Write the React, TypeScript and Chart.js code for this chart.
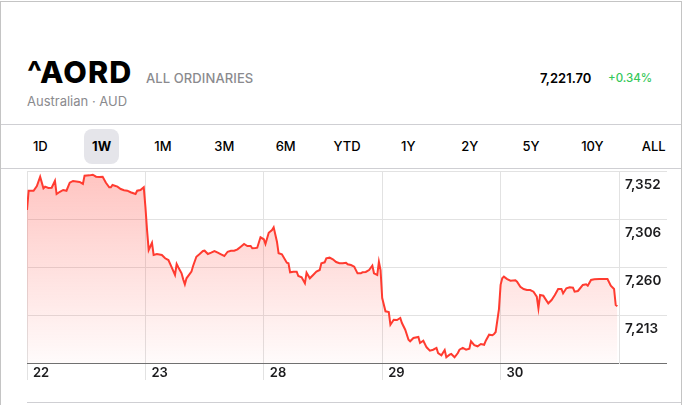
import React, { useEffect, useRef } from 'react';
import { Chart, registerables } from 'chart.js';

Chart.register(...registerables);

// Trading minutes since the first session open (each session = 360 minutes)
const dayTicks = [0, 360, 720, 1080, 1440];
const dayLabels = ['22', '23', '28', '29', '30'];
const priceTicks = [7167, 7213.25, 7259.5, 7305.75, 7352];
const priceTickLabels = ['', '7,213', '7,260', '7,306', '7,352'];
const ranges = ['1D', '1W', '1M', '3M', '6M', 'YTD', '1Y', '2Y', '5Y', '10Y', 'ALL'];
const selectedRange = '1W';

const times = [
  0, 5, 20, 30, 40, 50, 55, 65, 75, 85, 90, 100, 110, 120, 130, 140, 155, 160, 170, 175,
  190, 200, 210, 220, 230, 240, 250, 255, 260, 275, 285, 295, 305, 315, 330, 335, 345, 355,
  360, 365, 370, 380, 385, 395, 410, 420, 430, 440, 450, 455, 460, 470, 475, 480, 485, 500, 505, 515,
  525, 535, 540, 550, 560, 570, 580, 590, 600, 610, 620, 630, 640, 650, 660, 670, 680, 685, 695, 700, 710,
  720, 725, 735, 745, 750, 760, 765, 775, 790, 795, 800, 810, 820, 825, 835, 845, 850, 860, 870, 880, 890,
  895, 905, 910, 920, 930, 940, 950, 960, 970, 975, 985, 995, 1005, 1015, 1020, 1030, 1040, 1050, 1055, 1065,
  1070, 1075,
  1080, 1090, 1100, 1105, 1115, 1125, 1135, 1140, 1150, 1160, 1165, 1175, 1190, 1195, 1205, 1215, 1225, 1235, 1245, 1250,
  1260, 1270, 1275, 1285, 1290, 1300, 1310, 1315, 1325, 1335, 1345, 1350, 1360, 1370, 1380, 1390, 1395, 1405, 1415, 1420,
  1425, 1435,
  1440, 1445, 1450, 1460, 1470, 1485, 1490, 1500, 1510, 1520, 1530, 1540, 1550, 1555, 1560, 1570, 1575, 1585, 1595, 1605,
  1615, 1625, 1630, 1640, 1650, 1660, 1665, 1675, 1680, 1690, 1700, 1705, 1715, 1725, 1740, 1755, 1765, 1775, 1785, 1790,
  1795,
];

const prices = [
  7314.4, 7333.0, 7333.0, 7337.5, 7346.5, 7335.3, 7336.9, 7335.6, 7335.9, 7342.6, 7329.8, 7332.0, 7333.7, 7333.0, 7340.7, 7342.4, 7341.7, 7341.4, 7339.5, 7347.5,
  7347.8, 7348.4, 7346.5, 7346.2, 7346.5, 7340.7, 7336.3, 7336.3, 7338.5, 7336.9, 7334.6, 7333.4, 7333.0, 7331.5, 7329.8, 7333.0, 7333.7, 7336.4,
  7317.6, 7295.1, 7275.9, 7282.9, 7271.1, 7272.0, 7271.1, 7267.9, 7266.2, 7259.2, 7251.8, 7262.4, 7259.2, 7253.4, 7247.6, 7242.8, 7248.6, 7255.0, 7260.5, 7269.4,
  7272.0, 7274.9, 7275.2, 7272.0, 7273.3, 7274.9, 7273.3, 7271.7, 7270.1, 7274.2, 7275.2, 7275.2, 7276.5, 7279.1, 7281.7, 7279.7, 7279.7, 7277.5, 7277.8, 7278.1, 7288.1,
  7286.2, 7281.7, 7292.5, 7295.1, 7297.7, 7283.9, 7272.7, 7271.7, 7263.6, 7263.1, 7254.4, 7255.0, 7255.0, 7250.8, 7249.6, 7243.8, 7254.0, 7248.6, 7251.8, 7255.0, 7256.6,
  7263.1, 7264.0, 7267.9, 7268.5, 7266.9, 7264.3, 7263.1, 7263.1, 7263.6, 7262.1, 7261.4, 7259.8, 7253.4, 7253.4, 7254.4, 7254.7, 7256.6, 7260.8, 7253.4, 7251.8,
  7264.6, 7256.6,
  7229.6, 7216.8, 7216.1, 7203.9, 7208.7, 7208.4, 7210.4, 7205.5, 7199.1, 7189.4, 7187.9, 7191.1, 7192.1, 7186.3, 7188.5, 7182.1, 7178.9, 7179.8, 7181.5, 7176.6,
  7174.4, 7179.5, 7172.5, 7175.0, 7175.7, 7172.5, 7176.6, 7179.8, 7181.5, 7179.8, 7180.8, 7187.9, 7184.1, 7183.1, 7185.3, 7184.6, 7188.5, 7194.3, 7193.7, 7194.9,
  7196.9, 7219.0,
  7242.3, 7248.6, 7250.2, 7247.9, 7246.3, 7246.7, 7245.3, 7240.5, 7238.3, 7237.3, 7237.3, 7235.7, 7230.9, 7219.7, 7232.5, 7231.8, 7229.3, 7224.5, 7227.7, 7232.5,
  7238.3, 7238.3, 7234.2, 7239.0, 7239.9, 7239.6, 7235.7, 7236.4, 7238.3, 7242.2, 7242.8, 7241.5, 7247.0, 7247.6, 7247.9, 7247.9, 7247.9, 7241.5, 7238.3, 7222.9,
  7221.7,
];

const FONT = 'Inter, "Noto Sans", "Liberation Sans", sans-serif';
const LIGHT = '#e2e2e2';
const AXIS = '#707070';
const SEP = '#cfcfd3';

function PriceChart() {
  const ref = useRef<HTMLCanvasElement | null>(null);
  useEffect(() => {
    if (!ref.current) return;
    const chart = new Chart(ref.current, {
      type: 'line',
      data: {
        datasets: [
          {
            data: times.map((t, i) => ({ x: t, y: prices[i] })),
            borderColor: '#ff3b30',
            borderWidth: 2,
            pointRadius: 0,
            tension: 0,
            fill: 'start',
            backgroundColor: (c: any) => {
              const area = c.chart.chartArea;
              if (!area) return 'rgba(255,59,48,0.15)';
              const g = c.chart.ctx.createLinearGradient(0, area.top, 0, area.bottom);
              g.addColorStop(0, 'rgba(255,59,48,0.30)');
              g.addColorStop(1, 'rgba(255,59,48,0.02)');
              return g;
            },
          },
        ],
      },
      options: {
        animation: false,
        responsive: false,
        maintainAspectRatio: false,
        events: [],
        layout: { padding: { left: 27, top: 11, right: 0, bottom: 0 } },
        plugins: { legend: { display: false }, tooltip: { enabled: false } },
        scales: {
          x: {
            type: 'linear',
            min: 0,
            max: 1800,
            afterFit: (s: any) => { s.height = 38; },
            afterBuildTicks: (s: any) => { s.ticks = dayTicks.map((v) => ({ value: v })); },
            grid: { color: LIGHT, tickColor: LIGHT, tickLength: 17, drawTicks: true, lineWidth: 1 },
            border: { display: true, color: AXIS, width: 1 },
            ticks: {
              callback: (_v: any, i: number) => dayLabels[i],
              align: 'start',
              labelOffset: 6,
              padding: -15,
              autoSkip: false,
              maxRotation: 0,
              color: '#1c1c1e',
              font: { family: FONT, size: 13, weight: '600' },
            },
          },
          y: {
            type: 'linear',
            position: 'right',
            min: priceTicks[0],
            max: priceTicks[priceTicks.length - 1],
            afterFit: (s: any) => { s.width = 62; },
            afterBuildTicks: (s: any) => { s.ticks = priceTicks.map((v) => ({ value: v })); },
            grid: {
              color: (c: any) => (c.tick && c.tick.value === priceTicks[0] ? AXIS : LIGHT),
              tickColor: (c: any) => (c.tick && c.tick.value === priceTicks[0] ? AXIS : LIGHT),
              tickLength: 48,
              drawTicks: true,
            },
            border: { display: true, color: LIGHT, width: 1 },
            ticks: {
              callback: (_v: any, i: number) => priceTickLabels[i],
              padding: -42,
              labelOffset: 14,
              autoSkip: false,
              color: '#1c1c1e',
              font: { family: FONT, size: 13.5, weight: '600' },
            },
          },
        },
      },
    } as any);
    return () => chart.destroy();
  }, []);
  return (
    <canvas
      ref={ref}
      width={681}
      height={241}
      style={{ position: 'absolute', left: 0, top: 160, width: 681, height: 241 }}
    />
  );
}

export default function App() {
  const abs = (o: any): React.CSSProperties => ({ position: 'absolute', whiteSpace: 'nowrap', lineHeight: 1, fontFamily: FONT, ...o });
  return (
    <div style={{ position: 'absolute', left: 0, top: 0, width: 683, height: 405, overflow: 'hidden', background: '#fff' }}>
      <div style={{ position: 'absolute', left: 0, top: 1, width: 682, height: 420, boxSizing: 'border-box', borderTop: '1px solid #c4c4c4', borderLeft: '1px solid #c4c4c4', borderRight: '1px solid #c4c4c4' }} />
      <div style={abs({ left: 27, top: 57.2, fontSize: 30.5, fontWeight: 800, color: '#000', letterSpacing: 1.1 })}>^AORD</div>
      <div style={abs({ left: 146, top: 71.5, fontSize: 13, fontWeight: 500, color: '#8a8a8e', letterSpacing: 0.1 })}>ALL ORDINARIES</div>
      <div style={abs({ left: 27, top: 94.9, fontSize: 13, fontWeight: 400, color: '#8a8a8e' })}>Australian · AUD</div>
      <div style={abs({ left: 540, top: 72, fontSize: 13, fontWeight: 600, color: '#000' })}>7,221.70</div>
      <div style={abs({ left: 608, top: 73.2, fontSize: 11.5, fontWeight: 500, color: '#34c759' })}>+0.34%</div>
      <div style={{ position: 'absolute', left: 1, top: 124, width: 680, height: 1, background: SEP }} />
      <div style={{ position: 'absolute', left: 83.5, top: 128.5, width: 35, height: 35, borderRadius: 8, background: '#e5e5ea' }} />
      {ranges.map((r, i) => (
        <div
          key={r}
          style={abs({
            left: 40.3 + 61.34 * i - 30,
            width: 60,
            textAlign: 'center',
            top: 139.9,
            fontSize: 13,
            fontWeight: r === selectedRange ? 700 : 500,
            color: '#000',
          })}
        >
          {r}
        </div>
      ))}
      <div style={{ position: 'absolute', left: 1, top: 168, width: 680, height: 1, background: SEP }} />
      <PriceChart />
      <div style={{ position: 'absolute', left: 27, top: 402, width: 654, height: 1, background: SEP }} />
    </div>
  );
}
